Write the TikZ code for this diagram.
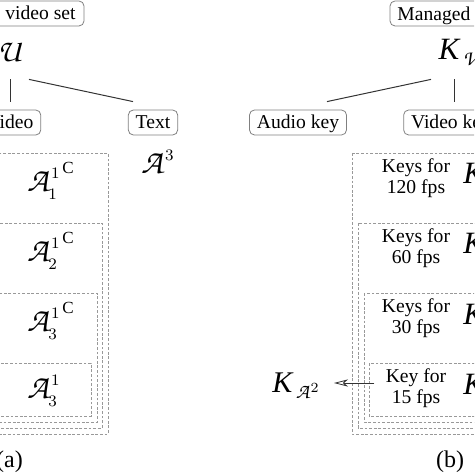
\documentclass[tikz,border=0pt]{standalone}
\usepackage{amsmath}
\usepackage{fontspec}
\setmainfont{Liberation Serif}
\usetikzlibrary{arrows.meta}
\DeclareMathAlphabet{\mathpzc}{OT1}{pzc}{m}{it}
\newcommand{\txtsize}{\fontsize{9.8}{10.5}\selectfont}
\newcommand{\calsize}{\fontsize{17}{19}\selectfont}
\newcommand{\ssc}{\scriptscriptstyle}
\tikzset{
    keybox/.style={draw=gray, rounded corners=2.5pt, line width=0.4pt, inner xsep=3.7pt, inner ysep=3pt,
        text height=6.5pt, text depth=0pt, font=\txtsize},
    partbox/.style={draw=gray, rounded corners=2.5pt, line width=0.4pt},
    framebox/.style={draw=gray!80, dash pattern=on 1.4pt off 0.9pt, line width=0.35pt},
    branch/.style={draw=black!80, line width=0.5pt},
    lbl/.style={font=\txtsize, align=center, inner sep=0pt}
}

\begin{document}
\begin{tikzpicture}[x=0.5pt,y=-0.5pt]
    \useasboundingbox (0,0) rectangle (474,474);
    \clip (0,0) rectangle (474,474);

    % (a) the video set
    \draw[partbox] (-90,1) rectangle (84,26);
    \node[lbl, anchor=base east] (vset) at (76,20) {video set};
    \node[anchor=base, inner sep=0pt, text depth=8.5pt, font=\fontsize{16}{18}\selectfont] (usym) at (10,62) {$\mathpzc{U}$};
    \node[keybox] (video) at (10,122.5) {Video};
    \node[keybox] (text) at (153,122.5) {Text};
    \node[inner sep=0pt, font=\calsize] (a3) at (158,162) {$\mathpzc{A}^{\ssc 3}$};
    \draw[branch] (usym.south) -- ([yshift=4pt]video.north);
    \draw[branch] ([xshift=9.5pt]usym.south) -- ([xshift=-10pt,yshift=4pt]text.north);

    \foreach \t/\r/\b in {153/108/434, 223/102/428, 293/97/422, 363/91/416}
        \draw[framebox] (-10,\t) rectangle (\r,\b);
    \foreach \i/\y in {1/181, 2/251, 3/321}
        \node[anchor=west, inner sep=0pt, font=\calsize] (f\i) at (27,\y) {$\mathpzc{A}_{\ssc\i}^{\ssc 1^{\,\mathrm{C}}}$};
    \node[anchor=west, inner sep=0pt, font=\calsize] (f4) at (27,391) {$\mathpzc{A}_{\ssc 3}^{\ssc 1}$};
    \node[font=\fontsize{12}{14}\selectfont] (capa) at (9.5,462) {(a)};

    % (b) the managed keys
    \draw[partbox] (390,1) rectangle (560,26);
    \node[lbl, anchor=base west] (mset) at (397,20.5) {Managed};
    \node[anchor=base, inner sep=0pt, text depth=9.5pt, font=\fontsize{15.5}{18}\selectfont] (kv) at (460,60) {\itshape K$_{\,\mathpzc{V}}$};
    \node[keybox] (akey) at (298,122.5) {Audio key};
    \node[keybox] (vkey) at (451,122.5) {Video key};
    \draw[branch] ([xshift=-14.5pt]kv.south) -- ([xshift=14.5pt,yshift=4pt]akey.north);
    \draw[branch] ([xshift=-3pt]kv.south) -- ([xshift=1.5pt,yshift=4pt]vkey.north);

    \foreach \l/\t/\b in {352/153/434, 358/223/428, 364/293/422, 369/363/416}
        \draw[framebox] (\l,\t) rectangle (484,\b);
    \foreach \f/\y in {120/178, 60/248, 30/318}
        \node[lbl] (k\f) at (416,\y) {Keys for\\\f\ fps};
    \node[lbl] (k15) at (416,388) {Key for\\15 fps};
    \foreach \y in {184, 254, 324, 394}
        \node[anchor=base west, inner sep=0pt, font=\fontsize{15.5}{18}\selectfont\itshape] at (463,\y) {K};
    \node[anchor=east, inner sep=0pt, font=\fontsize{15}{18}\selectfont] (ka2) at (321,386) {\itshape K$_{\,\mathpzc{A}^{2}}$};
    \draw[black!80, line width=0.4pt, -{Stealth[open, length=7pt, width=3.6pt, inset=2pt]}]
        ([xshift=-5.5pt,yshift=2.5pt]k15.west) -- ([xshift=6.5pt,yshift=1.5pt]ka2.east);
    \node[font=\fontsize{12}{14}\selectfont] (capb) at (450,462) {(b)};
\end{tikzpicture}
\end{document}
